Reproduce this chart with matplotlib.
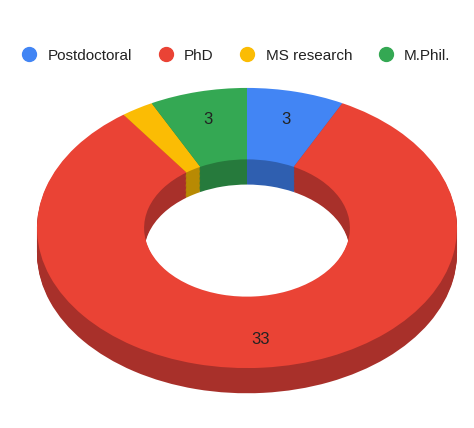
import matplotlib
matplotlib.use("Agg")
import matplotlib.pyplot as plt
from matplotlib.lines import Line2D
from matplotlib.transforms import Affine2D
import numpy as np

plt.rcParams['font.family'] = ['Liberation Sans', 'DejaVu Sans']

categories = ["Postdoctoral", "PhD", "MS research", "M.Phil."]
values = [3, 33, 1, 3]
colors = ["#4285F4", "#EA4335", "#FBBC04", "#34A853"]
dark_colors = ["#2f5fb0", "#a8302a", "#b88a03", "#267a3c"]

squash = 0.667
depth = 0.12
hole = 0.49
cy = 228

fig = plt.figure(figsize=(4.74, 4.28), dpi=100)
ax = fig.add_axes([0, 0, 1, 1])


def squish(patches, dy):
    tr = Affine2D().scale(1, squash).translate(0, dy) + ax.transData
    for p in patches:
        p.set_transform(tr)


# extruded side, drawn bottom up
for off in np.linspace(depth, 0.005, 20):
    w, _ = ax.pie(values, colors=dark_colors, startangle=90, counterclock=False,
                  radius=1, wedgeprops=dict(width=1 - hole, linewidth=0))
    squish(w, -off)

total = sum(values)
w, _, autotexts = ax.pie(values, colors=colors, startangle=90, counterclock=False,
                         radius=1, wedgeprops=dict(width=1 - hole, linewidth=0),
                         autopct=lambda p: "%d" % round(p * total / 100) if p > 5 else "",
                         pctdistance=0.8, textprops=dict(fontsize=12, color="#222222"))
squish(w, 0)
for t in autotexts:
    x, y = t.get_position()
    t.set_position((x, y * squash))
ax.set_xlim(-247 / 210, (474 - 247) / 210)
ax.set_ylim((cy - 428) / 210, cy / 210)
ax.set_aspect("auto")
ax.axis("off")

handles = [Line2D([], [], marker="o", linestyle="", markersize=10,
                  markerfacecolor=c, markeredgecolor=c) for c in colors]
fig.legend(handles, categories, loc="center", bbox_to_anchor=(0.49, 0.87), ncol=4,
           frameon=False, fontsize=11, handletextpad=0.2, columnspacing=1.2,
           labelcolor="#222222")

fig.savefig("out.png", dpi=100)
